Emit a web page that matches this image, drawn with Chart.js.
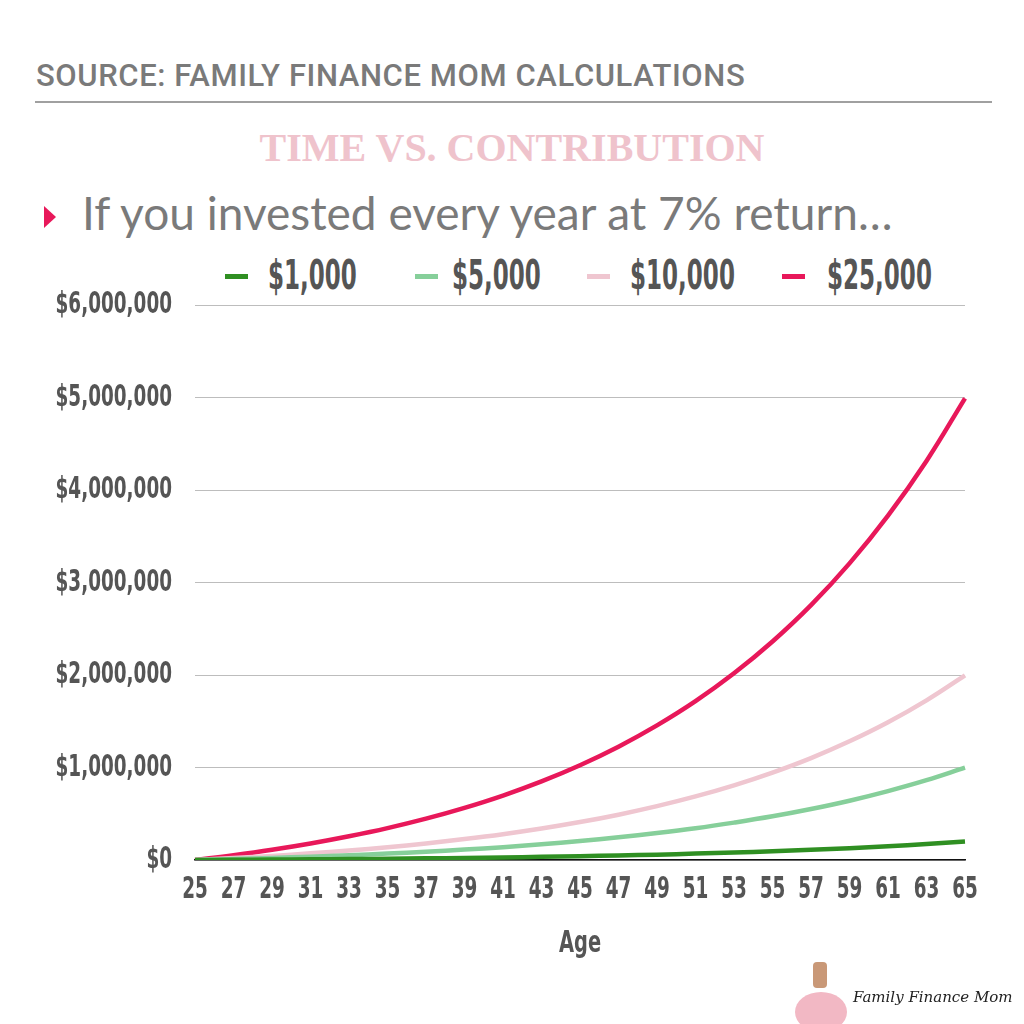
<!DOCTYPE html>
<html>
<head>
<meta charset="utf-8">
<script src="https://cdn.jsdelivr.net/npm/chart.js@4/dist/chart.umd.min.js"></script>
<style>
  html, body { margin: 0; padding: 0; background: #fff; }
  body { width: 1024px; height: 1024px; position: relative; overflow: hidden; }
  #source { position: absolute; left: 36px; top: 57px; font-family: Roboto, sans-serif; font-weight: 500;
    font-size: 31px; color: #7a7a7a; letter-spacing: 0.6px; }
  #rule { position: absolute; left: 35px; top: 101px; width: 957px; height: 2px; background: #a0a0a0; }
  #title { position: absolute; left: 0; width: 1024px; top: 124px; text-align: center;
    font-family: "Liberation Serif", serif; font-weight: bold; font-size: 40px; color: #efc3cc; }
  #tri { position: absolute; left: 44px; top: 206px; width: 0; height: 0;
    border-top: 11px solid transparent; border-bottom: 11px solid transparent; border-left: 12px solid #e8185a; }
  #sub { position: absolute; left: 82px; top: 185px; font-family: Lato, sans-serif; font-size: 46px; color: #7a7a7a; }
  .sw { position: absolute; top: 274px; height: 5px; }
  .lab { position: absolute; top: 252px; line-height: 46px; font-family: "DejaVu Sans Condensed", sans-serif;
    font-weight: bold; font-size: 40px; color: #555; transform: scaleX(0.64); transform-origin: left center; white-space: nowrap; }
  #wrap { position: absolute; left: 0; top: 280px; width: 1024px; height: 700px; }
  #logo { position: absolute; left: 795px; top: 962px; }
  #pig { position: absolute; left: 0; top: 30px; width: 52px; height: 40px; border-radius: 50%; background: #f2b8c4; }
  #coin { position: absolute; left: 18px; top: 0; width: 14px; height: 26px; background: #c99877; border-radius: 4px; }
  #brand { position: absolute; left: 58px; top: 26px; white-space: nowrap; font-family: "DejaVu Serif", serif;
    font-style: italic; font-size: 15px; color: #222; }
</style>
</head>
<body>
<div id="source">SOURCE: FAMILY FINANCE MOM CALCULATIONS</div>
<div id="rule"></div>
<div id="title">TIME VS. CONTRIBUTION</div>
<div id="tri"></div>
<div id="sub">If you invested every year at 7% return…</div>
<div id="legend"></div>
<div id="wrap"><canvas id="chart"></canvas></div>
<div id="logo"><div id="coin"></div><div id="pig"></div><div id="brand">Family Finance Mom</div></div>
<script>
const ages = [25, 27, 29, 31, 33, 35, 37, 39, 41, 43, 45, 47, 49, 51, 53, 55, 57, 59, 61, 63, 65];
const seriesNames = ['$1,000', '$5,000', '$10,000', '$25,000'];
const seriesColors = ['#2f8f22', '#86cf9a', '#efc6d0', '#e8185a'];
const yTicks = [0, 1000000, 2000000, 3000000, 4000000, 5000000, 6000000];

const invest1k = [0, 2000, 4400, 7200, 10300, 13800, 17900, 22500, 27900, 34000, 41000, 49000, 58000, 69000, 81000, 94000, 110000, 128000, 149000, 173000, 200000];
const invest5k = [0, 10000, 22000, 36000, 51000, 69000, 89000, 113000, 139000, 170000, 205000, 245000, 291000, 343000, 404000, 472000, 551000, 641000, 745000, 863000, 998000];
const invest10k = [0, 21000, 44000, 72000, 103000, 138000, 179000, 226000, 279000, 340000, 410000, 490000, 582000, 687000, 807000, 945000, 1102000, 1283000, 1489000, 1726000, 1996000];
const invest25k = [0, 52000, 111000, 179000, 257000, 345000, 447000, 564000, 697000, 850000, 1025000, 1225000, 1455000, 1717000, 2018000, 2362000, 2755000, 3207000, 3723000, 4314000, 4991000];

const seriesData = [invest1k, invest5k, invest10k, invest25k];

// legend, built from the series
const swatchX = [225, 415, 587, 782];
const labelX = [268, 452, 630, 827];
const legend = document.getElementById('legend');
seriesNames.forEach((name, i) => {
  const sw = document.createElement('div');
  sw.className = 'sw';
  sw.style.left = swatchX[i] + 'px';
  sw.style.width = '23px';
  sw.style.background = seriesColors[i];
  legend.appendChild(sw);
  const lab = document.createElement('div');
  lab.className = 'lab';
  lab.style.left = labelX[i] + 'px';
  lab.textContent = name;
  legend.appendChild(lab);
});

const money = (v) => '$' + Number(v).toLocaleString('en-US');
const condFont = 'bold 31px "DejaVu Sans Condensed", sans-serif';

// tick labels squeezed sideways to look like the narrow font of the original
const narrowTicks = {
  id: 'narrowTicks',
  afterDraw(chart) {
    const { ctx, scales: { x, y } } = chart;
    ctx.save();
    ctx.font = condFont;
    ctx.fillStyle = '#555';
    ctx.textBaseline = 'middle';
    yTicks.forEach(v => {
      ctx.save();
      ctx.translate(y.right - 23, y.getPixelForValue(v));
      ctx.scale(0.66, 1);
      ctx.textAlign = 'right';
      ctx.fillText(money(v), 0, 0);
      ctx.restore();
    });
    ages.forEach((a, i) => {
      ctx.save();
      ctx.translate(x.getPixelForValue(i), x.top + 30);
      ctx.scale(0.66, 1);
      ctx.textAlign = 'center';
      ctx.fillText(String(a), 0, 0);
      ctx.restore();
    });
    ctx.save();
    ctx.translate((x.left + x.right) / 2, x.top + 84);
    ctx.scale(0.72, 1);
    ctx.textAlign = 'center';
    ctx.font = 'bold 30px "DejaVu Sans Condensed", sans-serif';
    ctx.fillText('Age', 0, 0);
    ctx.restore();
    ctx.restore();
  }
};

new Chart(document.getElementById('chart'), {
  type: 'line',
  data: {
    labels: ages,
    datasets: seriesNames.map((name, i) => ({
      label: name,
      data: seriesData[i],
      borderColor: seriesColors[i],
      backgroundColor: seriesColors[i],
      borderWidth: 4.5,
      pointRadius: 0,
      tension: 0.4,
      fill: false,
    })),
  },
  options: {
    responsive: true,
    maintainAspectRatio: false,
    animation: false,
    layout: { padding: { top: 25, right: 59, bottom: 0, left: 0 } },
    plugins: { legend: { display: false }, tooltip: { enabled: false } },
    scales: {
      x: {
        grid: { display: false, drawTicks: false },
        border: { display: true, color: '#111', width: 1.5 },
        ticks: { display: false },
        afterFit: (scale) => { scale.height = 120; },
      },
      y: {
        min: 0,
        max: 6000000,
        afterBuildTicks: (scale) => { scale.ticks = yTicks.map(v => ({ value: v })); },
        grid: { color: '#bdbdbd', lineWidth: 1, drawTicks: false },
        border: { display: false },
        ticks: { display: false },
        afterFit: (scale) => { scale.width = 195; },
      },
    },
  },
  plugins: [narrowTicks],
});
</script>
</body>
</html>
